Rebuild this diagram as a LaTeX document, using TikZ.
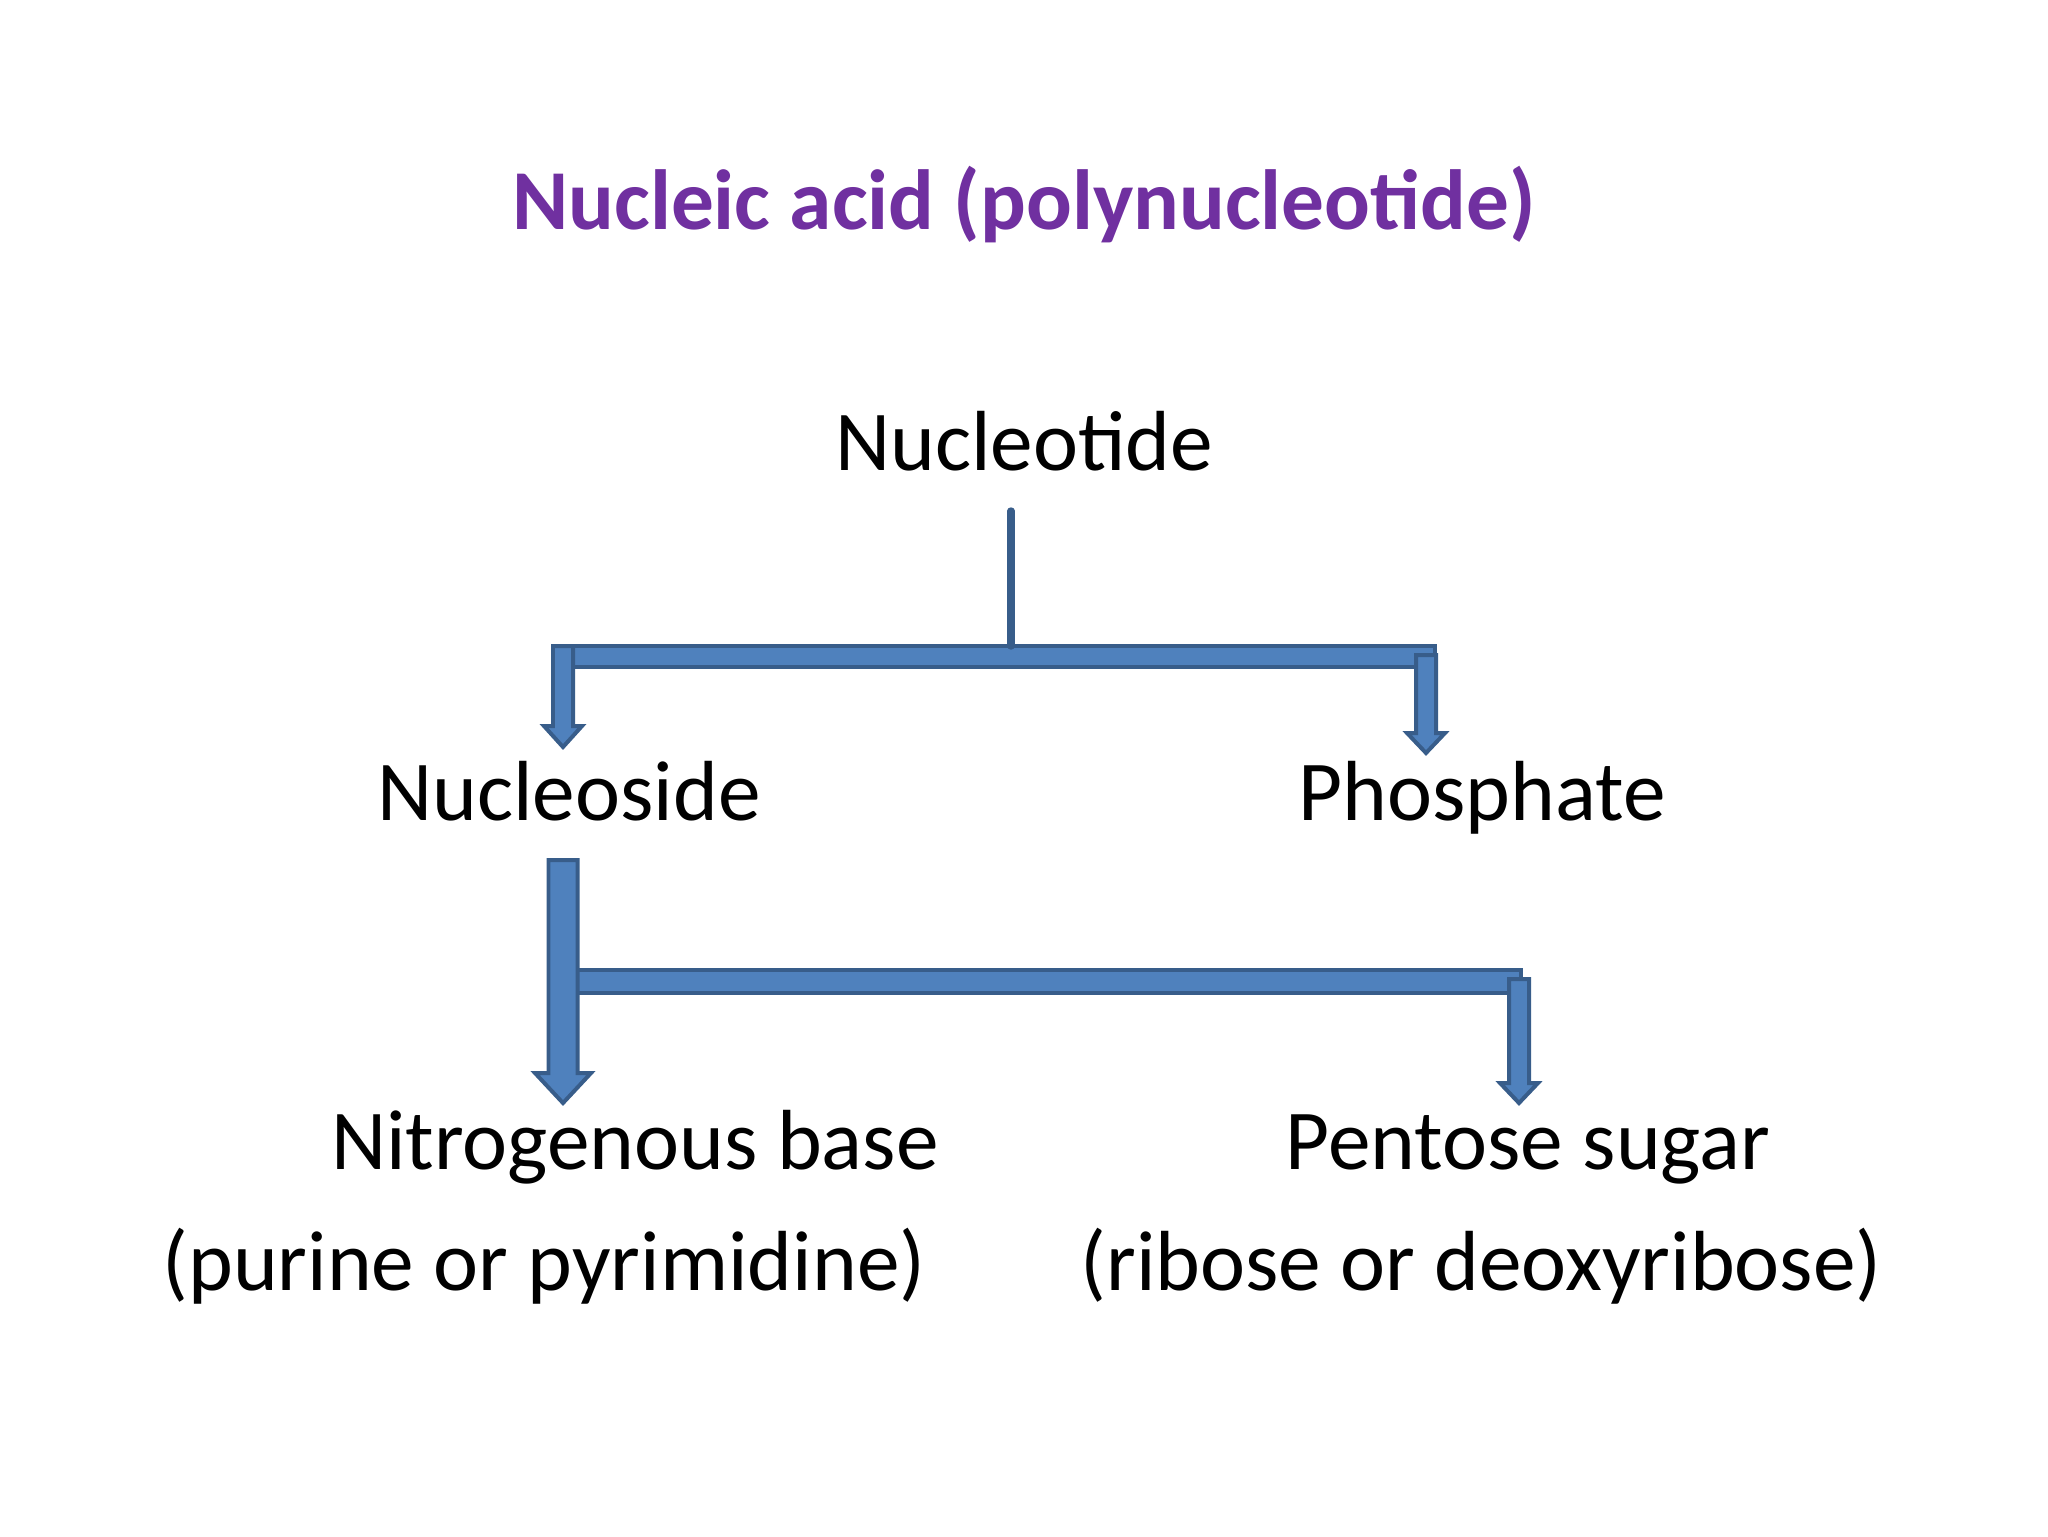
\documentclass[tikz,border=0pt]{standalone}
\usepackage{fontspec}
\setmainfont{Carlito}
\usepackage{tikz}
\usetikzlibrary{positioning,calc}
\definecolor{titlepurple}{HTML}{7030A0}
\definecolor{arrowfill}{HTML}{4F81BD}
\definecolor{arrowedge}{HTML}{385D8A}
% block arrow pointing down: x, top, tip, shaft width, head width, head length
\newcommand{\blockdown}[6]{%
  \filldraw[blockfill] ({#1-#4/2},{#2}) -- ({#1+#4/2},{#2}) -- ({#1+#4/2},{#3-#6})
    -- ({#1+#5/2},{#3-#6}) -- ({#1},{#3}) -- ({#1-#5/2},{#3-#6})
    -- ({#1-#4/2},{#3-#6}) -- cycle;}

\begin{document}
\begin{tikzpicture}[x=0.3516pt, y=-0.3516pt,
    blockfill/.style={fill=arrowfill, draw=arrowedge, line width=1.4pt, line join=miter},
    label/.style={anchor=base, font=\fontsize{30}{36}\selectfont, inner sep=0pt}]
        \useasboundingbox (0,0) rectangle (2048,1536);
        \node[anchor=base, titlepurple, font=\fontsize{30}{36}\selectfont\bfseries] (title) at (1024,229) {Nucleic acid (polynucleotide)};
        % levels of the tree
        \node[label] (nucleotide) at (1024,470) {Nucleotide};
        \node[label] (nucleoside) at (569,820) {Nucleoside};
        \node[label] (phosphate) at (1482,820) {Phosphate};
        \node[label] (base) at (635,1169) {Nitrogenous base};
        \node[label] (baseinfo) at (544,1290) {(purine or pyrimidine)};
        \node[label] (sugar) at (1528,1169) {Pentose sugar};
        \node[label] (sugarinfo) at (1481,1290) {(ribose or deoxyribose)};
        % nucleotide splits
        \coordinate (stemtop) at (1011,511);
        \coordinate (split1) at (1011,646);
        \filldraw[blockfill] (554,646) rectangle (1435,667);
        \draw[arrowedge, line width=2.6pt, line cap=round] (stemtop) -- (split1);
        \blockdown{563}{646}{747}{20}{38}{21}
        \blockdown{1426}{655}{753}{20}{38}{20}
        % nucleoside splits
        \filldraw[blockfill] (577,970) rectangle (1521,993);
        \blockdown{563}{860}{1103}{29}{56}{30}
        \blockdown{1519}{979}{1103}{20}{38}{20}
      \end{tikzpicture}
\end{document}
